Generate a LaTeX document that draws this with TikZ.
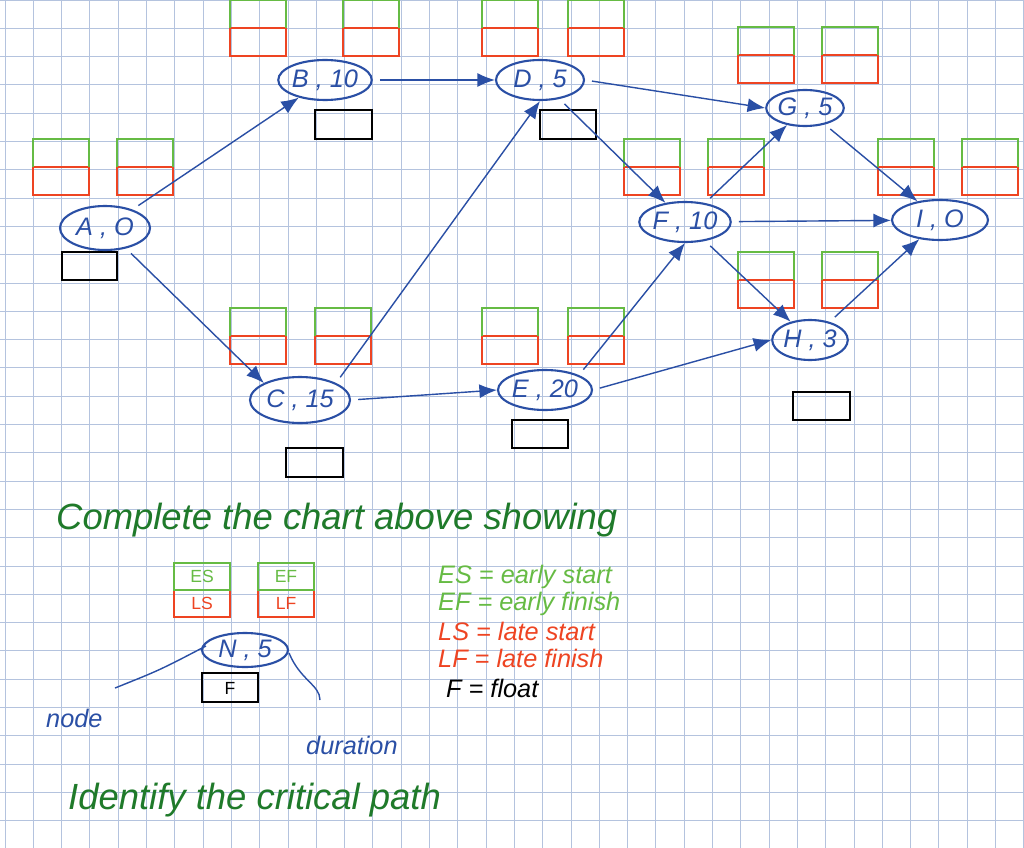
\documentclass[tikz,border=0pt]{standalone}
\usepackage{fontspec}
\setmainfont{Liberation Sans}
\usetikzlibrary{arrows.meta,shapes.geometric}
\definecolor{pen}{HTML}{2A4FA5}
\definecolor{gbox}{HTML}{66BB44}
\definecolor{rbox}{HTML}{EE4422}
\definecolor{gtext}{HTML}{1F7A2A}
\definecolor{gridc}{HTML}{B4C3DE}
\tikzset{
 nd/.style={draw=pen,very thick,ellipse,minimum width=88*0.02cm,minimum height=40*0.02cm,text=pen,font=\Large\itshape,inner sep=0pt},
 gb/.style={draw=gbox,thick},
 rb/.style={draw=rbox,thick},
 fb/.style={draw=black,thick},
 ar/.style={draw=pen,thick,shorten <=4pt,-{Latex[length=10pt,width=8pt]}},
 hw/.style={font=\Large\itshape,anchor=west},
}
\newcommand{\esls}[3]{% x y (top-left of first box), second box x
 \draw[rb] (#1,#2+28) rectangle ++(56,28);
 \draw[gb] (#1,#2+28) -- (#1,#2) -- ++(56,0) -- ++(0,28);
 \draw[rb] (#3,#2+28) rectangle ++(56,28);
 \draw[gb] (#3,#2+28) -- (#3,#2) -- ++(56,0) -- ++(0,28);
}
\begin{document}
\begin{tikzpicture}[x=0.02cm,y=-0.02cm]
\useasboundingbox (0,0) rectangle (1024,848);
\fill[white] (0,0) rectangle (1024,848);
\foreach \i in {0,...,36} \draw[gridc,line width=0.5pt] (5+28.3*\i,0) -- (5+28.3*\i,848);
\foreach \j in {0,...,30} \draw[gridc,line width=0.5pt] (0,28.3*\j) -- (1024,28.3*\j);
% ES/LS boxes
\esls{33}{139}{117}
\esls{230}{0}{343}
\esls{482}{0}{568}
\esls{738}{27}{822}
\esls{624}{139}{708}
\esls{878}{139}{962}
\esls{738}{252}{822}
\esls{230}{308}{315}
\esls{482}{308}{568}
% float boxes
\draw[fb] (62,252) rectangle (117,280);
\draw[fb] (315,110) rectangle (372,139);
\draw[fb] (540,110) rectangle (596,139);
\draw[fb] (286,448) rectangle (343,477);
\draw[fb] (512,420) rectangle (568,448);
\draw[fb] (793,392) rectangle (850,420);
% nodes
\node[nd,minimum width=90*0.02cm,minimum height=44*0.02cm] (A) at (105,228) {A , O};
\node[nd] (B) at (325,80) {B , 10};
\node[nd] (D) at (540,80) {D , 5};
\node[nd,minimum width=74*0.02cm,minimum height=36*0.02cm] (G) at (805,108) {G , 5};
\node[nd,minimum width=82*0.02cm] (F) at (685,222) {F , 10};
\node[nd,minimum width=96*0.02cm] (I) at (940,220) {I , O};
\node[nd,minimum width=74*0.02cm] (H) at (810,340) {H , 3};
\node[nd,minimum width=100*0.02cm,minimum height=46*0.02cm] (C) at (300,400) {C , 15};
\node[nd,minimum width=94*0.02cm] (E) at (545,390) {E , 20};
% arrows
\draw[ar] (A) -- (B);
\draw[ar] (A) -- (C.north west);
\draw[ar] (B) -- (D);
\draw[ar] (C.north east) -- (D.south);
\draw[ar] (C.east) -- (E.west);
\draw[ar] (D.east) -- (G.west);
\draw[ar] (D) -- (F);
\draw[ar] (F) -- (G);
\draw[ar] (F) -- (I);
\draw[ar] (F) -- (H);
\draw[ar] (E.north east) -- (F.south);
\draw[ar] (E.east) -- (H.west);
\draw[ar] (G) -- (I);
\draw[ar] (H) -- (I);
% text
\node[hw,text=gtext,font=\huge\itshape] (t1) at (50,520) {Complete the chart above showing};
% legend
\draw[rb] (174,590) rectangle ++(56,27);
\draw[gb] (174,563) rectangle ++(56,27);
\draw[rb] (258,590) rectangle ++(56,27);
\draw[gb] (258,563) rectangle ++(56,27);
\node[text=gbox] (les) at (202,576) {ES};
\node[text=rbox] (lls) at (202,603) {LS};
\node[text=gbox] (lef) at (286,576) {EF};
\node[text=rbox] (llf) at (286,603) {LF};
\node[nd,minimum width=86*0.02cm,minimum height=34*0.02cm] (N) at (245,650) {N , 5};
\draw[fb] (202,673) rectangle (258,702);
\node (fl) at (230,688) {F};
\draw[pen,thick] (N.west) ++(5,-4) .. controls (160,670) .. (115,688) coordinate (nend);
\draw[pen,thick] (N.east) ++(0,3) .. controls (300,680) and (320,685) .. (320,700) coordinate (dend);
\node[hw,text=pen] (lnode) at (40,718) {node};
\node[hw,text=pen] (ldur) at (300,745) {duration};
\node[hw,text=gbox] (k1) at (432,577) {ES = early start};
\node[hw,text=gbox] (k2) at (432,604) {EF = early finish};
\node[hw,text=rbox] (k3) at (432,631) {LS = late start};
\node[hw,text=rbox] (k4) at (432,658) {LF = late finish};
\node[hw,text=black] (k5) at (440,688) {F = float};
\node[hw,text=gtext,font=\huge\itshape] (t2) at (62,800) {Identify the critical path};
\end{tikzpicture}
\end{document}
